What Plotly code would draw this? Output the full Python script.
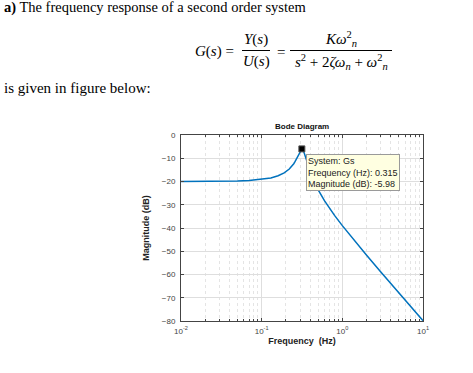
import math
import plotly.graph_objects as go

# ---- data ----
freq_hz = [0.01, 0.02, 0.03, 0.05, 0.07, 0.1, 0.13, 0.16, 0.19, 0.22, 0.24, 0.25, 0.26,
           0.27, 0.28, 0.29, 0.30, 0.305, 0.31, 0.315, 0.32, 0.325, 0.33, 0.34, 0.35,
           0.36, 0.38, 0.4, 0.42, 0.45, 0.5, 0.6, 0.7, 0.8, 1, 1.5, 2, 3, 5, 7, 10]
mag_db = [-19.99, -19.97, -19.92, -19.79, -19.58, -19.12, -18.46, -17.55, -16.32, -14.65,
          -13.20, -12.34, -11.38, -10.31, -9.15, -7.93, -6.81, -6.38, -6.09, -5.98, -6.08,
          -6.39, -6.87, -8.16, -9.64, -11.11, -13.76, -16.01, -17.92, -20.32, -23.53,
          -28.24, -31.74, -34.55, -38.98, -46.54, -51.71, -58.88, -67.81, -73.67, -79.88]

peak_freq = 0.315
peak_mag = -5.98
system_name = "Gs"

x_tickvals = [0.01, 0.1, 1, 10]
x_ticktext = ["10<sup>-2</sup>", "10<sup>-1</sup>", "10<sup>0</sup>", "10<sup>1</sup>"]
y_tickvals = [-80, -70, -60, -50, -40, -30, -20, -10, 0]
x_minor = [m * d for d in (0.01, 0.1, 1) for m in range(2, 10)]

# ---- layout geometry (pixels) ----
W, H = 473, 373
L, R, T, B = 181, 50, 135, 52
PW, PH = W - L - R, H - T - B


def px(x):
    return (x - L) / PW


def py(y):
    return (H - B - y) / PH


fig = go.Figure()
fig.add_trace(go.Scatter(x=freq_hz, y=mag_db, mode="lines",
                         line=dict(color="#0072BD", width=1.5), showlegend=False,
                         hoverinfo="skip"))
fig.add_trace(go.Scatter(x=[peak_freq], y=[peak_mag], mode="markers",
                         marker=dict(symbol="square", size=6, color="black",
                                     line=dict(color="#555", width=1)),
                         showlegend=False, hoverinfo="skip"))

sans = "Liberation Sans"
axis_font = dict(family=sans, size=8, color="#444")
label_font = dict(family=sans, size=9, color="#222")
fig.update_xaxes(type="log", range=[-2, 1], tickmode="array", tickvals=x_tickvals,
                 ticktext=x_ticktext, ticks="inside", ticklen=3, tickcolor="#444",
                 showline=True, linecolor="#444", linewidth=1, mirror="ticks",
                 showgrid=True, gridcolor="#dedede", gridwidth=1,
                 tickfont=axis_font, ticklabelstandoff=2,
                 minor=dict(tickmode="array", tickvals=x_minor, ticks="inside",
                            ticklen=2, tickcolor="#444", showgrid=True,
                            gridcolor="#e4e4e4", griddash="dot", gridwidth=1),
                 title=dict(text="<b>Frequency  (Hz)</b>", font=label_font, standoff=2),
                 zeroline=False)
fig.update_yaxes(range=[-80, 0], tickmode="array", tickvals=y_tickvals,
                 ticks="inside", ticklen=3, tickcolor="#444",
                 showline=True, linecolor="#444", linewidth=1, mirror="ticks",
                 showgrid=True, gridcolor="#dedede", gridwidth=1,
                 tickfont=axis_font, ticklabelstandoff=3,
                 title=dict(text="<b>Magnitude (dB)</b>", font=label_font, standoff=10),
                 zeroline=False)

serif = "Liberation Serif"
ann = []
ann.append(dict(x=px(2), y=py(8), xref="paper", yref="paper", xanchor="left",
                yanchor="middle", showarrow=False,
                text="<b>a)</b> The frequency response of a second order system",
                font=dict(family=serif, size=14.5, color="black")))
ann.append(dict(x=px(2), y=py(88), xref="paper", yref="paper", xanchor="left",
                yanchor="middle", showarrow=False,
                text="is given in figure below:",
                font=dict(family=serif, size=15, color="black")))
eq_font = dict(family=serif, size=15, color="black")
ann.append(dict(x=px(236), y=py(52), xref="paper", yref="paper", xanchor="right",
                yanchor="middle", showarrow=False,
                text="<i>G</i>(<i>s</i>) =", font=eq_font))
ann.append(dict(x=px(256), y=py(39), xref="paper", yref="paper", xanchor="center",
                yanchor="middle", showarrow=False,
                text="<i>Y</i>(<i>s</i>)", font=eq_font))
ann.append(dict(x=px(256), y=py(62), xref="paper", yref="paper", xanchor="center",
                yanchor="middle", showarrow=False,
                text="<i>U</i>(<i>s</i>)", font=eq_font))
ann.append(dict(x=px(281), y=py(52), xref="paper", yref="paper", xanchor="center",
                yanchor="middle", showarrow=False, text="=", font=eq_font))
ann.append(dict(x=px(341), y=py(39), xref="paper", yref="paper", xanchor="center",
                yanchor="middle", showarrow=False,
                text="<i>Kω</i><sup>2</sup><sub><i>n</i></sub>", font=eq_font))
ann.append(dict(x=px(341), y=py(62), xref="paper", yref="paper", xanchor="center",
                yanchor="middle", showarrow=False,
                text="<i>s</i><sup>2</sup> + 2<i>ζω</i><sub><i>n</i></sub> + <i>ω</i><sup>2</sup><sub><i>n</i></sub>",
                font=eq_font))
# plot title
ann.append(dict(x=0.5, y=py(126), xref="paper", yref="paper", xanchor="center",
                yanchor="middle", showarrow=False, text="<b>Bode Diagram</b>",
                font=dict(family=sans, size=8, color="#111")))
# data tip
ann.append(dict(x=math.log10(peak_freq), y=peak_mag, xref="x", yref="y",
                xanchor="left", yanchor="top", showarrow=False, align="left",
                xshift=4, yshift=-5, bgcolor="#ffffe1", bordercolor="#9a9a9a",
                borderwidth=1, borderpad=1,
                text=f"System: {system_name}<br>Frequency (Hz): {peak_freq:.3g}<br>Magnitude (dB): {peak_mag:.3g}",
                font=dict(family=sans, size=9, color="#222")))

shapes = [
    dict(type="line", xref="paper", yref="paper", x0=px(242), x1=px(270),
         y0=py(50.5), y1=py(50.5), line=dict(color="black", width=1)),
    dict(type="line", xref="paper", yref="paper", x0=px(290), x1=px(392),
         y0=py(50.5), y1=py(50.5), line=dict(color="black", width=1)),
]

fig.update_layout(width=W, height=H, margin=dict(l=L, r=R, t=T, b=B),
                  paper_bgcolor="white", plot_bgcolor="white",
                  annotations=ann, shapes=shapes, showlegend=False)

fig.write_html("out.html", config={"displayModeBar": False},
               post_script="document.body.style.margin='0';")
